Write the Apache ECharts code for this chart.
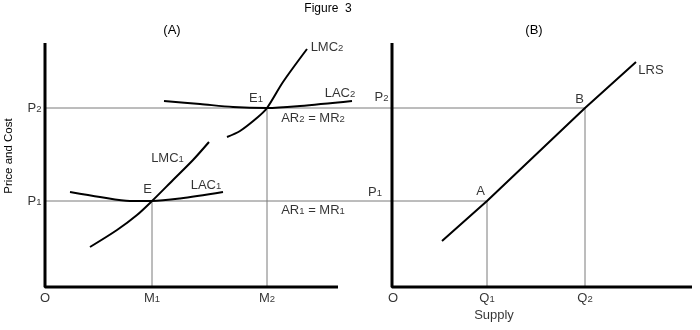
<!DOCTYPE html>
<html><head><meta charset="utf-8">
<script src="https://cdn.jsdelivr.net/npm/echarts@6/dist/echarts.min.js"></script>
<style>html,body{margin:0;padding:0;background:#fff}#c{width:700px;height:330px}</style>
</head><body><div id="c"></div><script>
// ---- data (quantity, price units) ----
const P1 = 8.6, P2 = 17.9;           // price levels
const M1 = 10.7, M2 = 22.2;          // firm outputs (panel A)
const Q1 = 9.5, Q2 = 19.3;           // industry supply (panel B)
const axisA = {xEnd: 29.3, yEnd: 24.4};
const axisB = {xEnd: 30.0, yEnd: 24.4};
const lac1 = [[2.5,9.5],[5.5,9.0],[8.5,8.6],[10.7,8.6],[13.5,8.85],[17.8,9.5]];
const lmc1 = [[4.5,4.0],[7.2,5.7],[9.2,7.2],[10.7,8.6],[12.8,10.7],[14.8,12.7],[16.4,14.5]];
const lmc2 = [[18.2,15.0],[19.5,15.6],[21.3,17.0],[22.2,17.9],[23.8,20.5],[26.2,23.8]];
const lac2 = [[11.9,18.6],[15.5,18.3],[18.8,18.0],[22.2,17.9],[25.5,18.1],[30.7,18.6]];
const lrs  = [[5.0,4.6],[9.5,8.6],[19.3,17.9],[24.4,22.5]];
const labelsA = [
  ['O',0,0],['M₁',M1,0],['M₂',M2,0],['P₂',0,P2],['P₁',0,P1],
  ['LMC₂',26.2,23.8],['E₁',M2,P2],['LAC₂',30.7,18.6],['AR₂ = MR₂',M2,P2],
  ['LMC₁',16.4,14.5],['E',M1,P1],['LAC₁',17.8,9.5],['AR₁ = MR₁',M2,P1]
];
const labelsB = [
  ['O',0,0],['Q₁',Q1,0],['Q₂',Q2,0],['Supply',Q1,0],['P₂',0,P2],['P₁',0,P1],
  ['B',Q2,P2],['A',Q1,P1],['LRS',24.4,22.5]
];
// ---- label placement (pixel offsets, style only) ----
const offA = [[0,11],[0,11],[0,11],[-10.5,0],[-10.5,0],[20,-2],[-11,-10],[-12,-8],[46,10],[-41.5,16],[-4.5,-12],[-17,-7],[46,9]];
const offB = [[1,11],[0,11],[0,11],[7,28],[-10.5,-11],[-17,-9],[-5.5,-9],[-6.5,-10],[15,8]];

const FONT = 'Liberation Sans, Arial, sans-serif';
function rich(t){
  return t.replace(/([^₁₂]+)/g,'{n|$1}').replace(/₁/g,'{s|1}').replace(/₂/g,'{s|2}');
}
const richStyle = {
  n:{fontSize:13,fontFamily:FONT,color:'#000'},
  s:{fontSize:9.5,fontFamily:FONT,color:'#000',verticalAlign:'bottom',padding:[3,0,0,0]}
};
function line(data, idx, opts){
  return Object.assign({type:'line',xAxisIndex:idx,yAxisIndex:idx,data:data,symbol:'none',
    clip:false,silent:true,lineStyle:{color:'#000',width:2}},opts||{});
}
function guide(data, idx){ return line(data, idx, {lineStyle:{color:'#7a7a7a',width:1}}); }
function labels(list, offs, idx){
  return {type:'scatter',xAxisIndex:idx,yAxisIndex:idx,symbolSize:0,clip:false,silent:true,
    data:list.map((l,i)=>({value:[l[1],l[2]],name:l[0],
      label:{show:true,position:'inside',offset:offs[i],formatter:()=>rich(l[0]),rich:richStyle}}))};
}
const chart = echarts.init(document.getElementById('c'));
chart.setOption({
  animation:false,
  grid:[{left:45,top:43,width:347,height:244},{left:392,top:43,width:308,height:244}],
  xAxis:[{type:'value',gridIndex:0,min:0,max:34.7,show:false},{type:'value',gridIndex:1,min:0,max:30.8,show:false}],
  yAxis:[{type:'value',gridIndex:0,min:0,max:24.4,show:false},{type:'value',gridIndex:1,min:0,max:24.4,show:false}],
  graphic:[
    {type:'text',style:{text:'Figure  3',x:328,y:9,align:'center',verticalAlign:'middle',font:'12px '+FONT,fill:'#000'}},
    {type:'text',style:{text:'(A)',x:172,y:30,align:'center',verticalAlign:'middle',font:'13px '+FONT,fill:'#000'}},
    {type:'text',style:{text:'(B)',x:534,y:30,align:'center',verticalAlign:'middle',font:'13px '+FONT,fill:'#000'}},
    {type:'text',x:9,y:156,rotation:Math.PI/2,style:{text:'Price and Cost',x:0,y:0,align:'center',verticalAlign:'middle',font:'11.5px '+FONT,fill:'#000'}}
  ],
  series:[
    guide([[0,P2],[34.7,P2]],0), guide([[0,P1],[34.7,P1]],0),
    guide([[M1,0],[M1,P1]],0), guide([[M2,0],[M2,P2]],0),
    guide([[0,P2],[Q2,P2]],1), guide([[0,P1],[Q1,P1]],1),
    guide([[Q1,0],[Q1,P1]],1), guide([[Q2,0],[Q2,P2]],1),
    line([[0,axisA.yEnd],[0,0],[axisA.xEnd,0]],0,{lineStyle:{color:'#000',width:3}}),
    line([[0,axisB.yEnd],[0,0],[axisB.xEnd,0]],1,{lineStyle:{color:'#000',width:3}}),
    line(lac1,0,{smooth:0.3}), line(lmc1,0,{smooth:0.3}),
    line(lmc2,0,{smooth:0.3}), line(lac2,0,{smooth:0.3}),
    line(lrs,1),
    labels(labelsA,offA,0), labels(labelsB,offB,1)
  ]
});
</script></body></html>
